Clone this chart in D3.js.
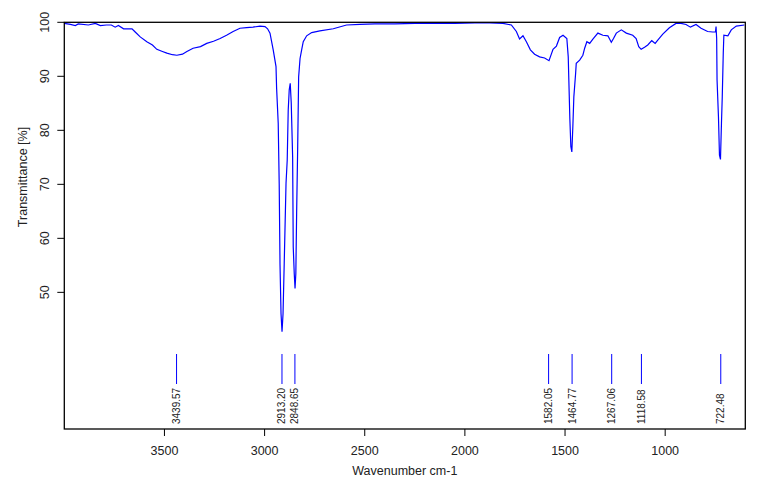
<!DOCTYPE html>
<html>
<head>
<meta charset="utf-8">
<script src="https://cdn.jsdelivr.net/npm/d3@7"></script>
<style>
  body { margin: 0; background: #fff; }
  svg text { font-family: "Liberation Sans", Arial, sans-serif; fill: #222; }
</style>
</head>
<body>
<div id="chart"></div>
<script>
// Spectrum: wavenumber (cm-1) and transmittance (%)
const wavenumbers = [4000, 3970, 3945, 3930, 3880, 3845, 3820, 3790, 3765, 3746, 3730, 3704, 3662, 3646,
  3621, 3588, 3560, 3538, 3510, 3488, 3460, 3438, 3410, 3388, 3357, 3320, 3289, 3255, 3222, 3190,
  3157, 3123, 3090, 3058, 3023, 2998, 2985, 2973, 2957, 2943, 2940, 2932, 2927, 2923, 2918, 2913,
  2908, 2902, 2893, 2887, 2882, 2877, 2872, 2867, 2860, 2857, 2852, 2848, 2844, 2840, 2835, 2830,
  2823, 2815, 2807, 2790, 2765, 2724, 2657, 2591, 2524, 2450, 2350, 2250, 2150, 2050, 1950, 1876,
  1810, 1768, 1743, 1727, 1710, 1693, 1673, 1652, 1627, 1602, 1580, 1560, 1543, 1527, 1510, 1491,
  1484, 1481, 1476, 1471, 1466, 1461, 1456, 1447, 1444, 1427, 1411, 1402, 1391, 1377, 1361, 1336,
  1311, 1286, 1269, 1258, 1244, 1219, 1194, 1162, 1145, 1132, 1120, 1103, 1087, 1067, 1050, 1037,
  1012, 979, 946, 921, 896, 874, 846, 821, 788, 763, 749, 746, 743, 741, 734, 729, 724, 719, 715,
  710, 707, 687, 670, 645, 605];
const transmittance = [99.8, 99.6, 99.4, 99.7, 99.5, 99.8, 99.4, 99.5, 99.5, 99.1, 99.4, 98.8, 98.8, 98.2,
  97.3, 96.4, 95.8, 95.0, 94.6, 94.3, 94.0, 93.9, 94.1, 94.6, 95.2, 95.5, 96.1, 96.5, 97.0, 97.6,
  98.3, 98.9, 99.0, 99.1, 99.3, 99.2, 98.8, 98.0, 94.9, 91.8, 87.8, 81.3, 69.9, 55.1, 46.1, 42.7,
  46.0, 55.4, 70.2, 74.5, 83.8, 87.5, 88.7, 85.1, 75.1, 58.4, 53.5, 50.7, 53.5, 64.7, 76.4, 89.9,
  93.3, 94.9, 96.4, 97.5, 98.1, 98.4, 98.8, 99.5, 99.6, 99.7, 99.7, 99.8, 99.8, 99.8, 99.9, 99.9,
  99.8, 99.5, 98.3, 96.9, 97.5, 96.4, 94.9, 94.1, 93.6, 93.4, 92.9, 95.0, 95.6, 97.2, 97.6, 97.0,
  93.6, 89.3, 82.2, 77.0, 76.0, 80.7, 86.2, 90.6, 92.4, 93.0, 93.9, 95.2, 96.4, 96.1, 96.9, 98.0,
  97.6, 97.5, 96.3, 97.0, 98.0, 98.6, 98.0, 97.6, 97.0, 95.5, 95.0, 95.4, 95.8, 96.6, 96.1, 96.7,
  97.8, 99.0, 99.8, 99.8, 99.6, 99.1, 99.6, 98.9, 98.3, 98.2, 98.2, 99.2, 97.0, 89.3, 82.5, 75.4,
  74.6, 81.3, 86.2, 94.3, 97.6, 97.5, 98.6, 99.3, 99.5];

const peaks = [3439.57, 2913.20, 2848.65, 1582.05, 1464.77, 1267.06, 1118.58, 722.48];
const xTicks = [3500, 3000, 2500, 2000, 1500, 1000];
const yTicks = [50, 60, 70, 80, 90, 100];

const margin = { left: 64.3, top: 22.3, right: 30.7, bottom: 56 };
const width = 776, height = 485;
const chart = {
    width: width - margin.left - margin.right,
    height: height - margin.top - margin.bottom
};

const svg = d3.select("#chart").append("svg")
    .attr("width", width)
    .attr("height", height);

const g = svg.append("g")
    .attr("transform", "translate(" + margin.left + "," + margin.top + ")");

const x = d3.scaleLinear().domain([4000, 600]).range([0, chart.width]);
const y = d3.scaleLinear().domain([24.7, 100]).range([chart.height, 0]);

// spectrum
const points = wavenumbers.map((w, i) => [w, transmittance[i]]);
g.append("path")
    .datum(points)
    .attr("fill", "none")
    .attr("stroke", "#0000ff")
    .attr("stroke-width", 1.2)
    .attr("d", d3.line().x(d => x(d[0])).y(d => y(d[1])));

// peak markers
const peakTop = 354 - margin.top, peakBottom = 384 - margin.top, labelY = 424 - margin.top;
g.selectAll(".peak")
    .data(peaks)
    .enter().append("line")
    .attr("class", "peak")
    .attr("x1", d => x(d)).attr("x2", d => x(d))
    .attr("y1", peakTop).attr("y2", peakBottom)
    .attr("stroke", "#0000ff")
    .attr("stroke-width", 1);

g.selectAll(".peaklabel")
    .data(peaks)
    .enter().append("text")
    .attr("class", "peaklabel")
    .attr("transform", d => "translate(" + (x(d) + 3.5) + "," + labelY + ") rotate(-90)")
    .attr("text-anchor", "start")
    .style("font-size", "10px")
    .text(d => d.toFixed(2));

// box
g.append("rect")
    .attr("width", chart.width)
    .attr("height", chart.height)
    .attr("fill", "none")
    .attr("stroke", "#000")
    .attr("stroke-width", 1.3);

// x axis
const xAxis = g.append("g").attr("transform", "translate(0," + chart.height + ")");
xAxis.selectAll("line")
    .data(xTicks)
    .enter().append("line")
    .attr("x1", d => x(d)).attr("x2", d => x(d))
    .attr("y1", 0).attr("y2", 7)
    .attr("stroke", "#000");
xAxis.selectAll("text")
    .data(xTicks)
    .enter().append("text")
    .attr("x", d => x(d))
    .attr("y", 26)
    .attr("text-anchor", "middle")
    .style("font-size", "12.5px")
    .text(d => d);

// y axis
const yAxis = g.append("g");
yAxis.selectAll("line")
    .data(yTicks)
    .enter().append("line")
    .attr("x1", -7).attr("x2", 0)
    .attr("y1", d => y(d)).attr("y2", d => y(d))
    .attr("stroke", "#000");
yAxis.selectAll("text")
    .data(yTicks)
    .enter().append("text")
    .attr("transform", d => "translate(-15," + y(d) + ") rotate(-90)")
    .attr("text-anchor", "middle")
    .style("font-size", "12.5px")
    .text(d => d);

// axis titles
svg.append("text")
    .attr("x", margin.left + chart.width / 2)
    .attr("y", 475)
    .attr("text-anchor", "middle")
    .style("font-size", "12.5px")
    .text("Wavenumber cm-1");

svg.append("text")
    .attr("transform", "translate(27,177) rotate(-90)")
    .attr("text-anchor", "middle")
    .style("font-size", "12.5px")
    .text("Transmittance [%]");
</script>
</body>
</html>
